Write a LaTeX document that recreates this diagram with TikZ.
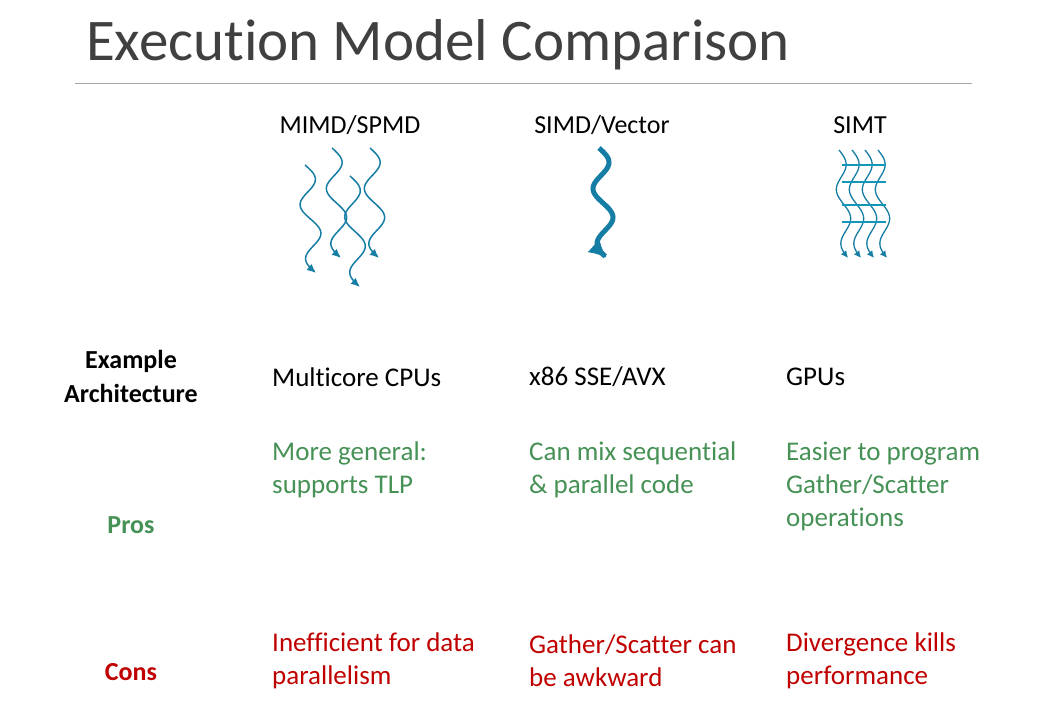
\documentclass[tikz,border=0pt]{standalone}
\usepackage{fontspec}
\setmainfont[Ligatures={NoCommon,NoRequired}]{Carlito}
\usetikzlibrary{arrows.meta}
\definecolor{thr}{RGB}{22,125,165}
\definecolor{prog}{RGB}{70,145,85}
\definecolor{cong}{RGB}{192,0,0}
\definecolor{tit}{RGB}{64,64,64}
\tikzset{
  body/.style={anchor=west,font=\fontsize{27}{33}\selectfont,inner sep=0},
  hdr/.style={font=\fontsize{26}{30}\selectfont,inner sep=0},
  lbl/.style={font=\fontsize{26}{32}\selectfont\bfseries,inner sep=0},
  thread/.style={thr,line width=1.5pt,-{Latex[length=9pt,width=8pt]}},
}
% \wave{x0}{y0}{x1}{y1}{amp}{halfwaves}
\newcommand{\wave}[6]{plot[domain=0:1,samples=60,smooth] ({(#1)+((#3)-(#1))*\x+(#5)*sin(\x*#6*180)},{(#2)+((#4)-(#2))*\x})}
\begin{document}
\begin{tikzpicture}[x=1pt,y=-1pt]
\useasboundingbox (0,0) rectangle (1044,713);
\node[anchor=west,inner sep=0,tit,font=\fontsize{59}{66}\selectfont] (title) at (86,45) {Execution Model Comparison};
\draw[gray!70,line width=0.8pt] (75,83) -- (972,83);
\node[hdr] (h1) at (350,125) {MIMD/SPMD};
\node[hdr] (h2) at (602,125) {SIMD/Vector};
\node[hdr] (h3) at (860,125) {SIMT};
% MIMD threads
\draw[thread] \wave{305}{165}{316}{273}{9}{4};
\draw[thread] \wave{332}{148}{341}{258}{9}{4};
\draw[thread] \wave{350}{176}{360}{287}{9}{4};
\draw[thread] \wave{370}{148}{379}{258}{9}{4};
% SIMD
\draw[thr,line width=5pt,-{Latex[length=18pt,width=18pt]}] \wave{599}{148}{607}{258}{9}{4};
% SIMT
\foreach \i in {0,1,2,3}{
  \draw[thread,line width=1.3pt,-{Latex[length=7pt,width=7pt]}] \wave{839+13*\i}{150}{848+13*\i}{258}{6}{4};
}
\foreach \yy in {165,182,205,222}{
  \draw[thr!80!cyan,line width=1.2pt] (842,\yy) -- (886,\yy);
}
% labels
\node[lbl] (ex) at (131,361) {Example};
\node[lbl] (ar) at (131,393) {Architecture};
\node[lbl,prog] (pros) at (131,525) {Pros};
\node[lbl,cong] (cons) at (131,672) {Cons};
\node[body] (a1) at (272,377) {Multicore CPUs};
\node[body] (a2) at (529,377) {x86 SSE/AVX};
\node[body] (a3) at (786,377) {GPUs};
\node[body,prog,align=left] (p1) at (272,470) {More general:\\supports TLP};
\node[body,prog,align=left] (p2) at (529,470) {Can mix sequential\\\& parallel code};
\node[body,prog,align=left] (p3) at (786,486) {Easier to program\\Gather/Scatter\\operations};
\node[body,cong,align=left] (c1) at (272,661) {Inefficient for data\\parallelism};
\node[body,cong,align=left] (c2) at (529,661) {Gather/Scatter can\\be awkward};
\node[body,cong,align=left] (c3) at (786,661) {Divergence kills\\performance};
\end{tikzpicture}
\end{document}
